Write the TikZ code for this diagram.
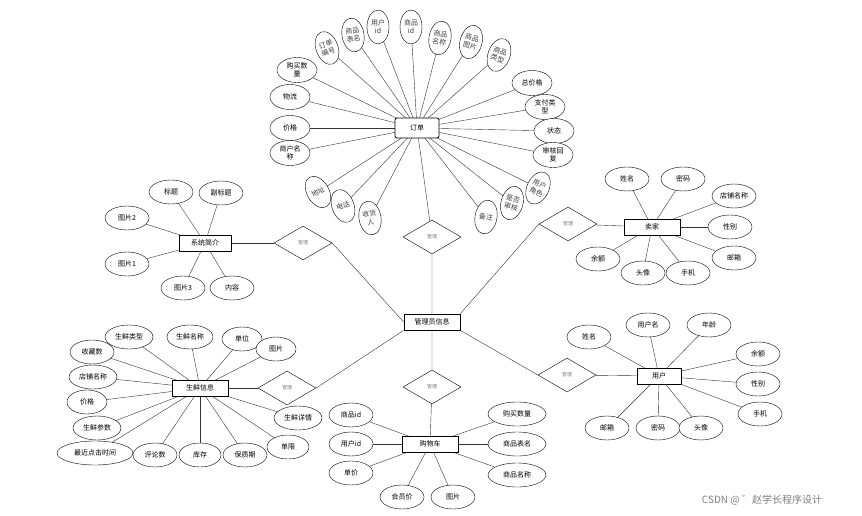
\documentclass[tikz,border=0pt]{standalone}
\usepackage{fontspec}
\setmainfont{Noto Sans CJK SC}
\usetikzlibrary{shapes.geometric,backgrounds}
\begin{document}
\begin{tikzpicture}[x=1pt,y=-1pt,font=\fontsize{7}{8}\selectfont,
 attr/.style={ellipse,draw,fill=white,minimum width=44pt,minimum height=24pt,inner sep=0pt},
 vattr/.style={ellipse,draw,fill=white,minimum width=22pt,minimum height=34pt,inner sep=0pt,align=center,text=black!75},
 ent/.style={rectangle,draw,thick,fill=white,minimum width=56pt,minimum height=16pt},
 rel/.style={diamond,draw,fill=white,minimum width=58pt,minimum height=34pt,inner sep=0pt,aspect=1.7,font=\fontsize{5}{6}\selectfont,text=gray},
 ln/.style={draw,black!80}]
\useasboundingbox (0,0) rectangle (862,516);
% entities
\node[ent] (adm) at (432,322) {管理员信息};
\node[ent,rounded corners=2pt,minimum width=44pt,minimum height=20pt] (ord) at (417,128) {订单};
\node[ent,minimum width=52pt] (sys) at (205,243) {系统简介};
\node[ent] (sel) at (652,227) {卖家};
\node[ent] (fre) at (200,388) {生鲜信息};
\node[ent] (car) at (430,444) {购物车};
\node[ent,minimum width=44pt] (usr) at (659,376) {用户};
% relations
\node[rel] (r1) at (432,237) {管理};
\node[rel] (r2) at (303,243) {管理};
\node[rel] (r3) at (568,224) {管理};
\node[rel] (r4) at (432,387) {管理};
\node[rel] (r5) at (287,388) {管理};
\node[rel] (r6) at (567,375) {管理};
\begin{pgfonlayer}{background}
\draw[ln] (adm) -- (r1) -- (ord);
\draw[ln] (adm.west) -- (r2.east); \draw[ln,thick] (r2) -- (sys);
\draw[ln] (adm.north east) -- (r3.west); \draw[ln] (r3) -- (sel);
\draw[ln] (adm) -- (r4) -- (car);
\draw[ln] (adm.south west) -- (r5.east); \draw[ln] (r5) -- (fre);
\draw[ln] (adm.south east) -- (r6.west); \draw[ln] (r6) -- (usr);
\end{pgfonlayer}
% order vertical attributes
\foreach \x/\y/\r/\t [count=\i] in {327/48/20/订单\\编号,353/35/10/商品\\表名,378/27/0/用户\\id,411/27/0/商品\\id,440/38/-10/商品\\名称,471/42/-15/商品\\图片,499/55/-20/商品\\类型,318/192/30/地址,343/206/20/电话,370/218/10/收货\\人,486/217/-10/备注,512/203/-15/是否\\审核,538/188/-25/用户\\角色}{
 \node[vattr,rotate=\r] (ov\i) at (\x,\y) {\t};
 \begin{pgfonlayer}{background}\draw[ln] (ov\i.center) -- (ord.center);\end{pgfonlayer}}
\foreach \x/\y/\t [count=\i] in {297/70/购买数\\量,290/97/物流,290/128/价格,290/153/商户名\\称,532/83/总价格,545/107/支付类\\型,554/131/状态,553/155/审核回\\复}{
 \node[attr,minimum width=40pt,minimum height=25pt,align=center] (oh\i) at (\x,\y) {\t};
 \begin{pgfonlayer}{background}\draw[ln] (oh\i.center) -- (ord.center);\end{pgfonlayer}}
% system
\foreach \x/\y/\t [count=\i] in {171/192/标题,221/193/副标题,127/218/图片2,127/264/图片1,183/288/图片3,232/288/内容}{
 \node[attr] (s\i) at (\x,\y) {\t};
 \begin{pgfonlayer}{background}\draw[ln] (s\i.center) -- (sys.center);\end{pgfonlayer}}
% seller
\foreach \x/\y/\t [count=\i] in {627/179/姓名,683/179/密码,734/196/店铺名称,730/227/性别,734/258/邮箱,598/259/余额,643/273/头像,688/273/手机}{
 \node[attr] (k\i) at (\x,\y) {\t};
 \begin{pgfonlayer}{background}\draw[ln] (k\i.center) -- (sel.center);\end{pgfonlayer}}
% fresh
\foreach \x/\y/\w/\t [count=\i] in {92/352/44/收藏数,129/337/48/生鲜类型,190/337/46/生鲜名称,242/339/40/单位,276/349/40/图片,93/377/48/店铺名称,87/402/40/价格,97/428/48/生鲜参数,95/453/76/最近点击时间,155/455/44/评论数,200/455/42/库存,245/455/44/保质期,288/447/42/单限,298/418/48/生鲜详情}{
 \node[attr,minimum width=\w pt] (f\i) at (\x,\y) {\t};
 \begin{pgfonlayer}{background}\draw[ln] (f\i.center) -- (fre.center);\end{pgfonlayer}}
% cart
\foreach \x/\y/\t [count=\i] in {351/415/商品id,351/444/用户id,351/473/单价,402/497/会员价,453/497/图片,517/414/购买数量,517/444/商品表名,517/475/商品名称}{
 \node[attr,minimum width=\ifnum\i>5 58pt\else 44pt\fi] (c\i) at (\x,\y) {\t};
 \begin{pgfonlayer}{background}\draw[ln] (c\i.center) -- (car.center);\end{pgfonlayer}}
% user
\foreach \x/\y/\t [count=\i] in {589/337/姓名,648/325/用户名,709/325/年龄,758/354/余额,758/384/性别,760/414/手机,607/428/邮箱,658/428/密码,701/428/头像}{
 \node[attr] (u\i) at (\x,\y) {\t};
 \begin{pgfonlayer}{background}\draw[ln] (u\i.center) -- (usr.center);\end{pgfonlayer}}
\node[text=gray,font=\fontsize{10}{12}\selectfont] (wm) at (762,500) {CSDN @ ゛赵学长程序设计};
\end{tikzpicture}
\end{document}
